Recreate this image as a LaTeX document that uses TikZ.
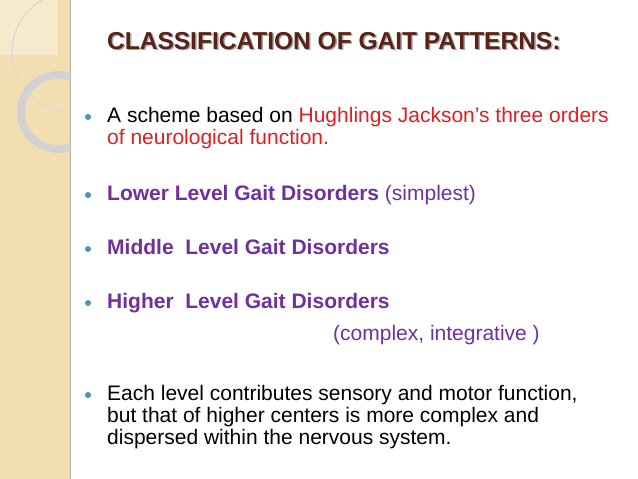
\documentclass[tikz,border=0pt]{standalone}
\usepackage{fontspec}
\setmainfont{Liberation Sans}
\definecolor{beige}{RGB}{243,222,178}
\definecolor{titlec}{RGB}{90,34,22}
\definecolor{redt}{RGB}{226,30,30}
\definecolor{purp}{RGB}{112,48,160}
\definecolor{bul}{RGB}{75,150,175}
\tikzset{txt/.style={anchor=base west,inner sep=0pt,font=\fontsize{21}{25}\selectfont},
bl/.style={circle,fill=bul,inner sep=0pt,minimum size=6pt}}
\begin{document}
\begin{tikzpicture}[x=1pt,y=-1pt]
\useasboundingbox (0,0) rectangle (638,479);
\fill[white] (0,0) rectangle (638,479);
\fill[beige] (0,0) rectangle (70,479);
\draw[gray!60,line width=1pt] (70,479)--(70,0);
\begin{scope}
\clip (0,0) rectangle (70,479);
\fill[white,opacity=0.35] (0,0) rectangle (58,55);
\draw[white!70!gray,line width=1.2pt] (72,52) circle (60);
\draw[gray!35,line width=8pt] (58,112) circle (37);
\end{scope}
\node[txt,font=\bfseries\fontsize{24.5}{28}\selectfont,text=gray!70] (t0) at (108.5,50.5) {CLASSIFICATION OF GAIT PATTERNS:};
\node[txt,font=\bfseries\fontsize{24.5}{28}\selectfont,text=titlec] (t) at (107,49) {CLASSIFICATION OF GAIT PATTERNS:};
\node[bl] (b1) at (88,117) {};
\node[txt] (a) at (107,122) {A scheme based on \textcolor{redt}{Hughlings Jackson’s three orders}};
\node[txt,text=redt] (a2) at (107,144) {of neurological function.};
\node[bl] (b2) at (88,195) {};
\node[txt,text=purp] (l) at (107,200) {\textbf{Lower Level Gait Disorders} (simplest)};
\node[bl] (b3) at (88,249) {};
\node[txt,text=purp] (m) at (107,254) {\textbf{Middle\ \ Level Gait Disorders}};
\node[bl] (b4) at (88,303) {};
\node[txt,text=purp] (h) at (107,308) {\textbf{Higher\ \ Level Gait Disorders}};
\node[txt,text=purp] (h2) at (333,340) {(complex, integrative )};
\node[bl] (b5) at (88,395) {};
\node[txt] (e) at (107,400) {Each level contributes sensory and motor function,};
\node[txt] (e2) at (107,422) {but that of higher centers is more complex and};
\node[txt] (e3) at (107,444) {dispersed within the nervous system.};
\end{tikzpicture}
\end{document}
